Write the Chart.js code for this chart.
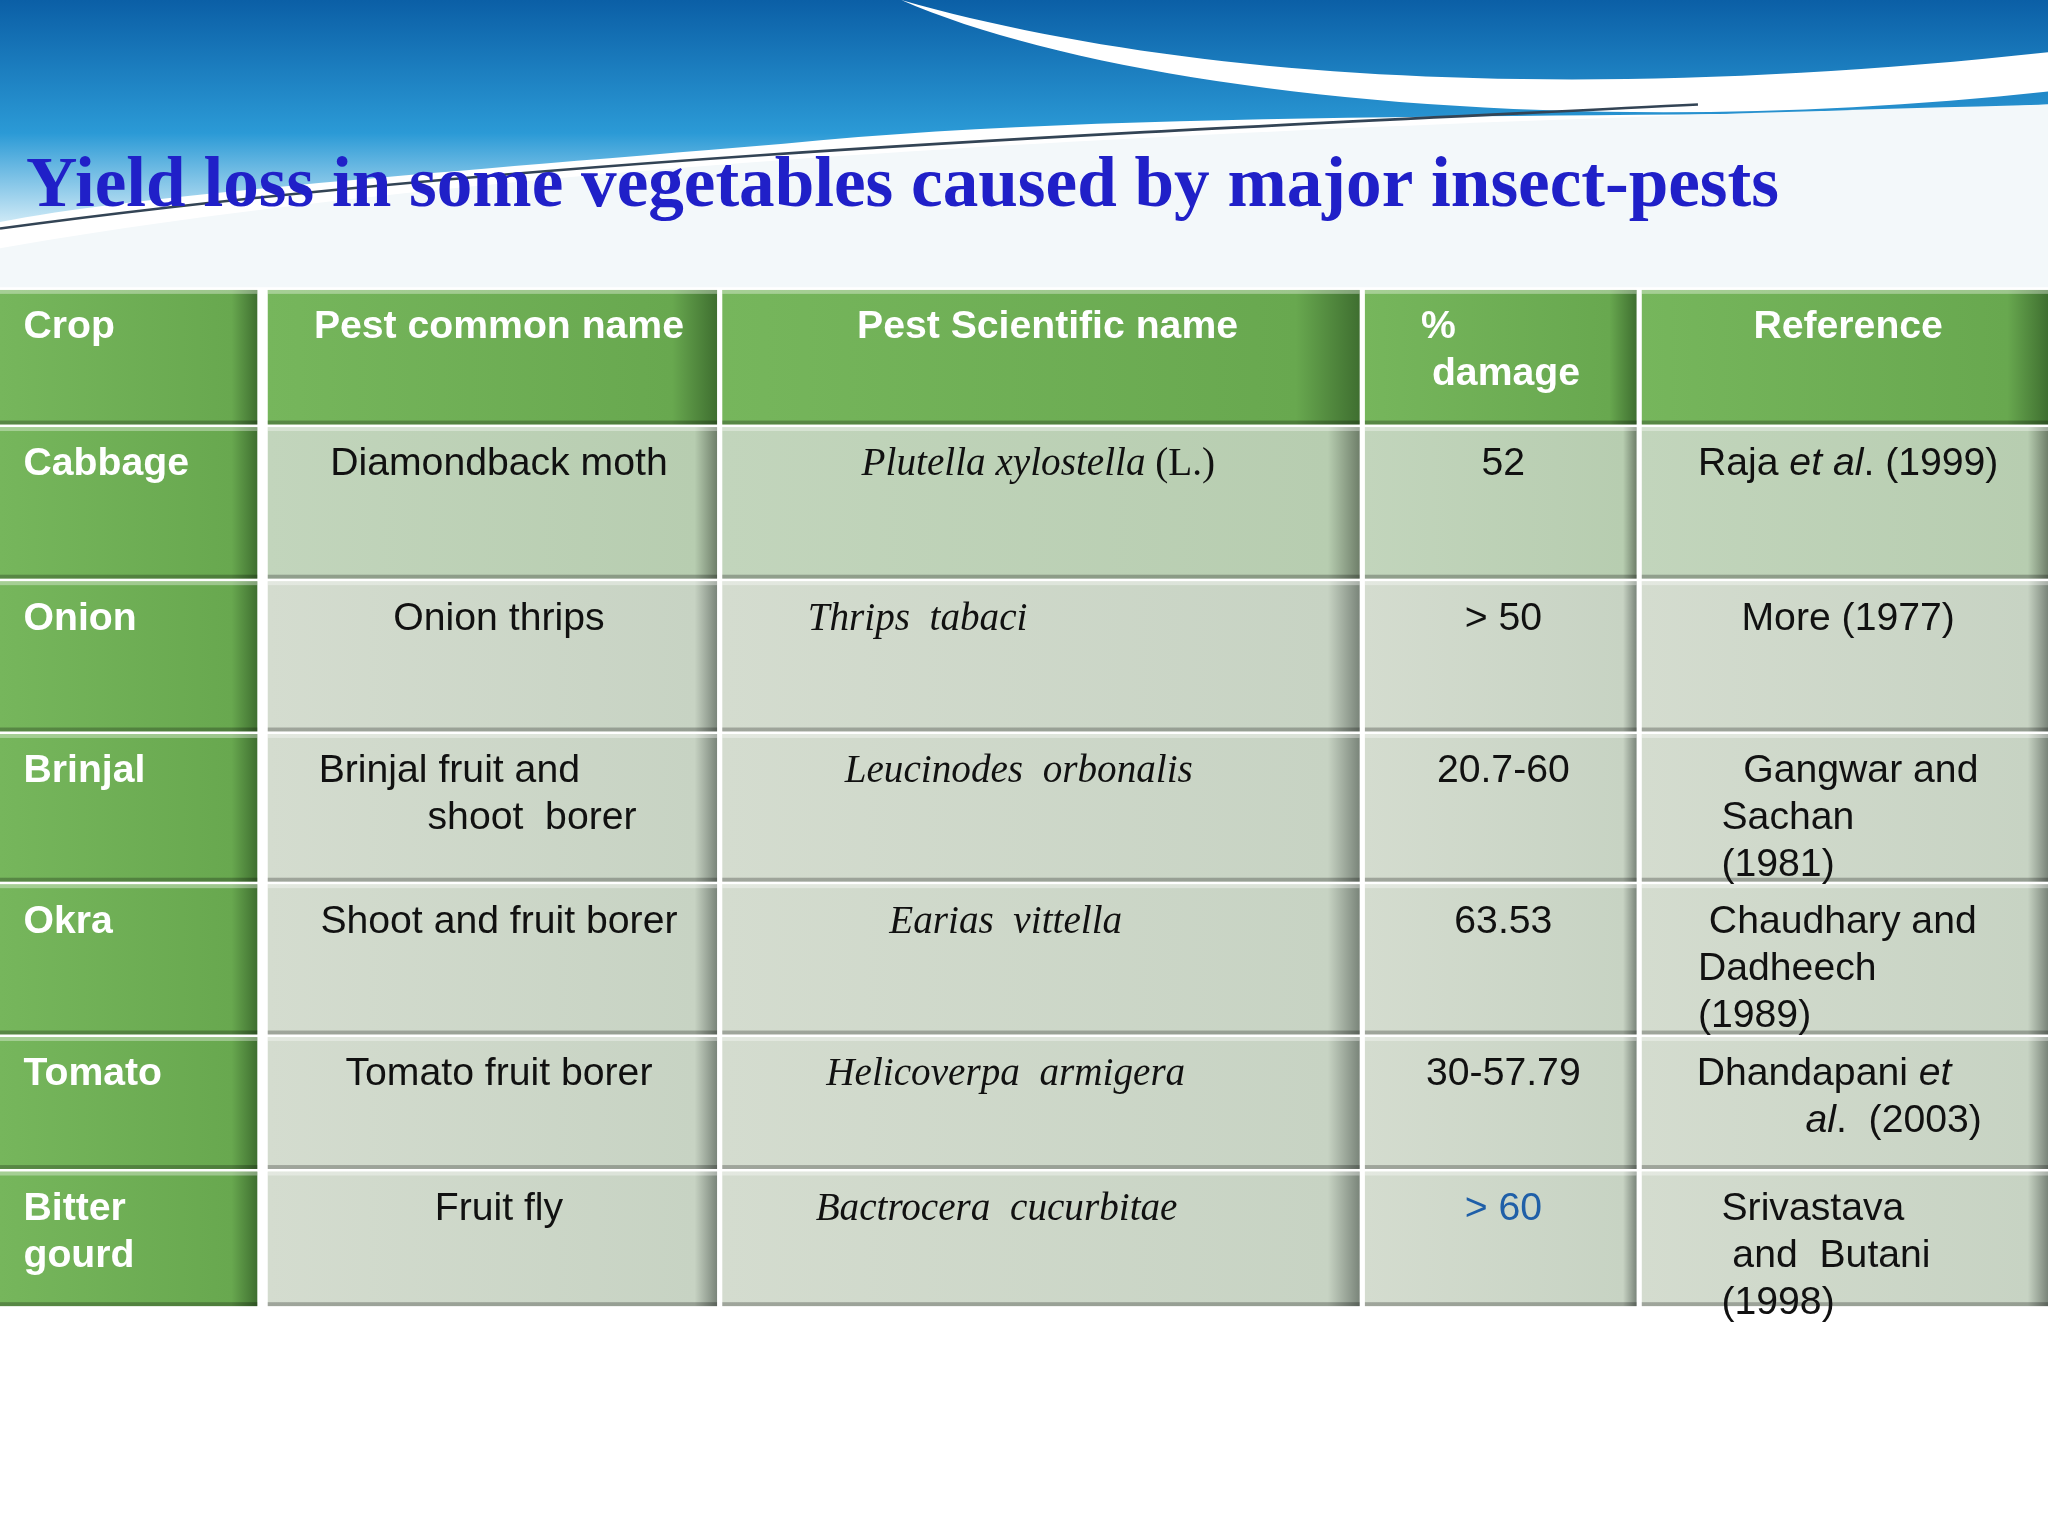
<!DOCTYPE html>
<html>
<head>
<meta charset="utf-8">
<script src="https://cdn.jsdelivr.net/npm/chart.js@4"></script>
<style>
  body { margin: 0; background: #fff; }
  canvas { display: block; }
</style>
</head>
<body>
<canvas id="table-chart" width="2048" height="1536"></canvas>
<script>
// table content (underscores toggle italic)
var title = 'Yield loss in some vegetables caused by major insect-pests';
var headers = [['Crop'], ['Pest common name'], ['Pest Scientific name'], ['%', ' damage'], ['Reference']];
var crops = [['Cabbage'], ['Onion'], ['Brinjal'], ['Okra'], ['Tomato'], ['Bitter', 'gourd']];
var pests = [['Diamondback moth'], ['Onion thrips'], ['Brinjal fruit and', '          shoot  borer'], ['Shoot and fruit borer'], ['Tomato fruit borer'], ['Fruit fly']];
var scientific = [['_Plutella xylostella_ (L.)'], ['_Thrips  tabaci_      '], ['_Leucinodes  orbonalis_'], ['_Earias  vittella_'], ['_Helicoverpa  armigera_'], ['_Bactrocera  cucurbitae_']];
var damage = ['52', '> 50', '20.7-60', '63.53', '30-57.79', '> 60'];
var references = [['Raja _et al_. (1999)'], ['More (1977)'], ['  Gangwar and', 'Sachan', '(1981)'], [' Chaudhary and', 'Dadheech', '(1989)'], ['Dhandapani _et_', '          _al_.  (2003)'], ['Srivastava', ' and  Butani', '(1998)']];

// layout in reference units (1568 x 1176)
var W = 1568, H = 1176;
var colEdges = [[0, 197], [205, 549], [553, 1041], [1045, 1253], [1257, 1568]];
var rowEdges = [[222, 325], [327, 443], [445, 560], [562, 675], [677, 792], [794, 895], [897, 1000]];
var refLeft = [1300, 1333, 1318, 1300, 1299, 1318];

function drawRuns(ctx, s, x, y, size, bold, serif, align, k) {
  var parts = s.split('_');
  var fam = serif ? '"Liberation Serif", "DejaVu Serif", serif' : '"Liberation Sans", Arial, sans-serif';
  var fonts = parts.map(function (p, i) {
    return (i % 2 ? 'italic ' : '') + (bold ? 'bold ' : '') + (size * k) + 'px ' + fam;
  });
  var total = 0;
  parts.forEach(function (p, i) { ctx.font = fonts[i]; total += ctx.measureText(p).width; });
  var cx = align === 'center' ? x - total / 2 : x;
  ctx.textAlign = 'left';
  parts.forEach(function (p, i) {
    ctx.font = fonts[i];
    ctx.fillText(p, cx, y);
    cx += ctx.measureText(p).width;
  });
}

var tablePlugin = {
  id: 'tablePlugin',
  beforeDraw: function (chart) {
    var ctx = chart.ctx, xs = chart.scales.x, ys = chart.scales.y;
    var k = chart.width / W;
    var X = function (v) { return xs.getPixelForValue(v); };
    var Y = function (v) { return ys.getPixelForValue(v); };
    ctx.save();
    ctx.fillStyle = '#fff';
    ctx.fillRect(0, 0, chart.width, chart.height);

    // top swoosh
    var g = ctx.createLinearGradient(X(0), Y(0), X(0), Y(170));
    g.addColorStop(0, '#0b5fa6');
    g.addColorStop(0.6, '#2b9ad6');
    g.addColorStop(1, '#cde9f6');
    ctx.fillStyle = g;
    ctx.beginPath();
    ctx.moveTo(X(0), Y(0));
    ctx.lineTo(X(W), Y(0));
    ctx.lineTo(X(W), Y(80));
    ctx.bezierCurveTo(X(1300), Y(95), X(900), Y(80), X(600), Y(110));
    ctx.bezierCurveTo(X(300), Y(135), X(100), Y(150), X(0), Y(170));
    ctx.closePath();
    ctx.fill();
    // white arc
    ctx.fillStyle = '#ffffff';
    ctx.beginPath();
    ctx.moveTo(X(690), Y(0));
    ctx.bezierCurveTo(X(900), Y(60), X(1200), Y(80), X(W), Y(40));
    ctx.lineTo(X(W), Y(70));
    ctx.bezierCurveTo(X(1200), Y(110), X(850), Y(70), X(690), Y(0));
    ctx.fill();
    ctx.fillStyle = '#f3f8fa';
    ctx.beginPath();
    ctx.moveTo(X(0), Y(190));
    ctx.bezierCurveTo(X(400), Y(120), X(1000), Y(95), X(W), Y(80));
    ctx.lineTo(X(W), Y(220));
    ctx.lineTo(X(0), Y(220));
    ctx.fill();
    ctx.strokeStyle = '#334455';
    ctx.lineWidth = 2 * k;
    ctx.beginPath();
    ctx.moveTo(X(0), Y(175));
    ctx.bezierCurveTo(X(400), Y(120), X(900), Y(100), X(1300), Y(80));
    ctx.stroke();

    // title
    ctx.fillStyle = '#2020c8';
    ctx.textBaseline = 'alphabetic';
    drawRuns(ctx, title, X(20), Y(158), 54.5, true, true, 'left', k);

    // cells
    function cell(ci, ri) {
      var c = colEdges[ci], r = rowEdges[ri];
      var green = ci === 0 || ri === 0;
      var gr = ctx.createLinearGradient(X(c[0]), 0, X(c[1]), 0);
      if (green) {
        gr.addColorStop(0, '#76b65c'); gr.addColorStop(0.9, '#68a84f'); gr.addColorStop(1, '#3f6f30');
      } else if (ri === 1) {
        gr.addColorStop(0, '#c2d5bc'); gr.addColorStop(0.95, '#b7cdb0'); gr.addColorStop(1, '#6f7f6a');
      } else {
        gr.addColorStop(0, '#d4dccf'); gr.addColorStop(0.95, '#c7d3c3'); gr.addColorStop(1, '#7a857a');
      }
      ctx.fillStyle = gr;
      ctx.fillRect(X(c[0]), Y(r[0]), X(c[1]) - X(c[0]), Y(r[1]) - Y(r[0]));
      ctx.fillStyle = 'rgba(255,255,255,0.35)';
      ctx.fillRect(X(c[0]), Y(r[0]), X(c[1]) - X(c[0]), 3 * k);
      ctx.fillStyle = 'rgba(0,0,0,0.25)';
      ctx.fillRect(X(c[0]), Y(r[1]) - 3 * k, X(c[1]) - X(c[0]), 3 * k);
    }
    for (var ri = 0; ri < rowEdges.length; ri++)
      for (var ci = 0; ci < colEdges.length; ci++) cell(ci, ri);

    var LH = 36;
    function lines(arr, x, top, opts) {
      arr.forEach(function (s, i) {
        drawRuns(ctx, s, X(x), Y(top + 37 + i * LH), 30, opts.bold, opts.serif, opts.align, k);
      });
    }
    ctx.fillStyle = '#ffffff';
    var hx = [18, 382, 802, 1088, 1415];
    headers.forEach(function (h, i) {
      lines(h, hx[i], rowEdges[0][0], { bold: true, align: i === 0 || i === 3 ? 'left' : 'center' });
    });
    var sciX = [795, 725, 780, 770, 770, 763];
    for (var r = 0; r < crops.length; r++) {
      var top = rowEdges[r + 1][0];
      ctx.fillStyle = '#ffffff';
      lines(crops[r], 18, top, { bold: true, align: 'left' });
      ctx.fillStyle = '#111111';
      lines(pests[r], pests[r].length > 1 ? 244 : 382, top, { align: pests[r].length > 1 ? 'left' : 'center' });
      lines(scientific[r], sciX[r], top, { serif: true, align: 'center' });
      ctx.fillStyle = r === 5 ? '#1f5fa8' : '#111111';
      lines([damage[r]], 1151, top, { align: 'center' });
      ctx.fillStyle = '#111111';
      lines(references[r], references[r].length > 1 ? refLeft[r] : 1415, top, { align: references[r].length > 1 ? 'left' : 'center' });
    }
    ctx.restore();
  }
};

new Chart(document.getElementById('table-chart'), {
  type: 'scatter',
  data: { datasets: [{ data: [] }] },
  options: {
    responsive: false,
    animation: false,
    devicePixelRatio: 1,
    layout: { padding: 0 },
    plugins: { legend: { display: false }, tooltip: { enabled: false } },
    scales: {
      x: { type: 'linear', min: 0, max: W, display: false },
      y: { type: 'linear', min: 0, max: H, reverse: true, display: false }
    }
  },
  plugins: [tablePlugin]
});
</script>
</body>
</html>
